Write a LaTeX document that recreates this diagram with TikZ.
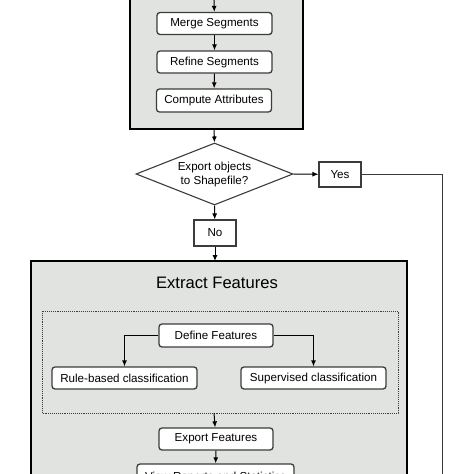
\documentclass[tikz,border=0pt]{standalone}
\usepackage{fontspec}
\setmainfont{Liberation Sans}
\usetikzlibrary{shapes.geometric,arrows.meta}
\definecolor{panelgrau}{RGB}{224,227,223}
\definecolor{randgrau}{RGB}{60,60,60}
\tikzset{
  schritt/.style={draw=randgrau, line width=1.3pt, rounded corners=3pt, fill=white,
    minimum height=22pt, inner sep=0pt, font=\fontsize{11.6}{13}\selectfont},
  kasten/.style={draw=randgrau, line width=1.1pt, fill=white, minimum width=42pt,
    minimum height=25pt, inner sep=0pt, font=\fontsize{11.6}{13}\selectfont},
  panel/.style={draw=black, line width=1.8pt, fill=panelgrau},
  pfeil/.style={-{Latex[length=6pt,width=5pt]}, line width=1pt}
}
\begin{document}
\begin{tikzpicture}[x=1pt, y=-1pt]
    \useasboundingbox[fill=white] (0,0) rectangle (474,474);

    % Oberer Block
    \draw[panel] (130,-10) rectangle (303,129);
    \coordinate (oben) at (214,-4);
    \node[schritt, minimum width=115pt] (merge) at (214.5,23.5) {Merge Segments};
    \node[schritt, minimum width=115pt] (refine) at (214.5,62) {Refine Segments};
    \node[schritt, minimum width=115pt, minimum height=23pt] (attr) at (214,100.5) {Compute Attributes};
    \coordinate (blockunten) at (214,129);

    \draw[pfeil] (oben) -- (merge);
    \draw[pfeil] (merge) -- (refine);
    \draw[pfeil] (refine) -- (attr);

    % Entscheidung
    \node[diamond, draw=randgrau, line width=1.1pt, fill=white, aspect=2.5, inner sep=0pt,
      minimum width=157pt, minimum height=62pt, align=center,
      font=\fontsize{11.6}{14}\selectfont] (frage) at (214.5,174)
      {Export objects\\to Shapefile?};
    \draw[pfeil] (blockunten) -- (frage.north);

    \node[kasten] (ja) at (340,174.5) {Yes};
    \node[kasten, minimum height=26pt] (nein) at (215,233) {No};
    \draw[pfeil] (frage.east) -- (ja);
    \draw[pfeil] (frage.south) -- (nein);

    \coordinate (ecke) at (442,174.5);
    \coordinate (rechtsunten) at (442,490);
    \draw[line width=1pt, draw=randgrau] (ja.east) -- (ecke) -- (rechtsunten);

    % Unterer Block
    \draw[panel] (31,261) rectangle (407,500);
    \coordinate (paneloben) at (215,261);
    \draw[pfeil] (nein) -- (paneloben);
    \node[font=\fontsize{16.6}{18}\selectfont] (titel) at (217,283) {Extract Features};

    \draw[densely dotted, line width=0.9pt, draw=randgrau] (42,311) rectangle (398,413);
    \node[schritt, minimum width=114pt, minimum height=23pt] (define) at (216,335.5) {Define Features};
    \node[schritt, minimum width=145pt] (regel) at (124.5,378) {Rule-based classification};
    \node[schritt, minimum width=145pt] (ueberw) at (313.5,378) {Supervised classification};
    \draw[pfeil] (define.west) -| (regel.north);
    \draw[pfeil] (define.east) -| (ueberw.north);

    \coordinate (punktunten) at (214,413);
    \node[schritt, minimum width=114pt] (export) at (216,439) {Export Features};
    \node[schritt, minimum width=157pt, minimum height=26pt] (bericht) at (215.5,477) {View Reports and Statistics};
    \draw[pfeil] (punktunten) -- (export);
    \draw[pfeil] (export) -- (bericht);
\end{tikzpicture}
\end{document}
